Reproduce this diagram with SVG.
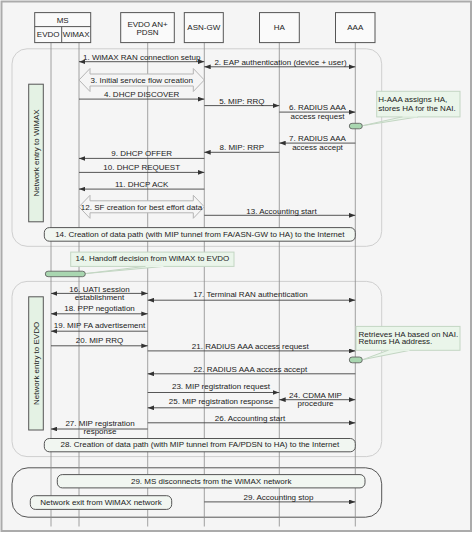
<svg xmlns="http://www.w3.org/2000/svg" width="474" height="534" viewBox="0 0 474 534">
<style>
text{font-family:"Liberation Sans",Arial,sans-serif;font-size:8px;fill:#222}
.c{text-anchor:middle}
.hdr{fill:#fafafa;stroke:#555;stroke-width:1}
.life{stroke:#8c8c8c;stroke-width:0.8;fill:none}
.msg{stroke:#444;stroke-width:0.9;fill:none}
.bi{marker-start:url(#ah);marker-end:url(#ah)}
.one{marker-end:url(#ah)}
.phase{fill:none;stroke:#cfcfcf;stroke-width:1}
.vbox{fill:#e4f2e4;stroke:#555;stroke-width:1}
.note{fill:#eaf5ea;stroke:#c3d6c3;stroke-width:1}
.pill{fill:#a9d6b0;stroke:#555;stroke-width:0.8}
.bar{fill:#f1f6f1;stroke:#555;stroke-width:1}
.fat{fill:#f5f5f5;stroke:#b5b5b5;stroke-width:1}
</style>
<defs>
<marker id="ah" viewBox="0 0 8 6" refX="8" refY="3" markerWidth="6.5" markerHeight="4.8" orient="auto-start-reverse" markerUnits="userSpaceOnUse"><path d="M0,0L8,3L0,6z" fill="#333"/></marker>
</defs>
<rect x="1.5" y="1.5" width="469.5" height="529.5" fill="#f5f5f5" stroke="#ababab" stroke-width="2"/>

<g id="phases">
<rect class="phase" x="12" y="48.8" width="369.7" height="197.5" rx="15"/>
<rect class="phase" x="12" y="281.4" width="369.7" height="175.2" rx="15"/>
<rect x="12" y="467.8" width="369.7" height="49.4" rx="16" fill="none" stroke="#555" stroke-width="1"/>
</g>

<g id="lifelines">
<line class="life" x1="51" y1="42.6" x2="51" y2="526.5"/>
<line class="life" x1="79" y1="42.6" x2="79" y2="526.5"/>
<line class="life" x1="147.7" y1="42.6" x2="147.7" y2="526.5"/>
<line class="life" x1="204.3" y1="42.6" x2="204.3" y2="526.5"/>
<line class="life" x1="279.3" y1="42.6" x2="279.3" y2="526.5"/>
<line class="life" x1="355.3" y1="42.6" x2="355.3" y2="526.5"/>
</g>

<g id="node-ms">
<rect class="hdr" x="34.7" y="12.6" width="56" height="30"/>
<line x1="34.7" y1="26.6" x2="90.7" y2="26.6" stroke="#555"/>
<line x1="61.7" y1="26.6" x2="61.7" y2="42.6" stroke="#555"/>
<text class="c" x="62.7" y="22.5">MS</text>
<text class="c" x="48.2" y="37.3">EVDO</text>
<text class="c" x="76.2" y="37.3">WiMAX</text>
</g>
<g id="node-evdoan">
<rect class="hdr" x="120.7" y="12.6" width="53.6" height="30"/>
<text class="c" x="147.5" y="26.8">EVDO AN+</text>
<text class="c" x="147.5" y="34.8">PDSN</text>
</g>
<g id="node-asngw">
<rect class="hdr" x="184.3" y="12.6" width="39" height="30"/>
<text class="c" x="203.8" y="29.8">ASN-GW</text>
</g>
<g id="node-ha">
<rect class="hdr" x="259.5" y="12.6" width="39.8" height="30"/>
<text class="c" x="279.4" y="29.8">HA</text>
</g>
<g id="node-aaa">
<rect class="hdr" x="335.5" y="12.6" width="39.5" height="30"/>
<text class="c" x="355.3" y="29.8">AAA</text>
</g>

<g id="label-wimax">
<rect class="vbox" x="28.7" y="84.2" width="14.6" height="137.6"/>
<text class="c" transform="translate(38.8,153) rotate(-90)">Network entry to WiMAX</text>
</g>
<g id="label-evdo">
<rect class="vbox" x="28.7" y="296.8" width="14.6" height="133.2"/>
<text class="c" transform="translate(38.8,363.4) rotate(-90)">Network entry to EVDO</text>
</g>

<g id="connectors">
<line class="msg bi" x1="79" y1="61.7" x2="204.3" y2="61.7"/>
<line class="msg bi" x1="204.3" y1="66.8" x2="355.3" y2="66.8"/>
<path class="fat" d="M79,80L90,68.5L90,74L193.3,74L193.3,68.5L204.3,80L193.3,91.5L193.3,86L90,86L90,91.5Z"/>
<line class="msg one" x1="79" y1="99.1" x2="204.3" y2="99.1"/>
<line class="msg one" x1="204.3" y1="105.6" x2="279.3" y2="105.6"/>
<line class="msg one" x1="279.3" y1="112.1" x2="355.3" y2="112.1"/>
<line class="msg one" x1="355.3" y1="143.1" x2="279.3" y2="143.1"/>
<line class="msg one" x1="279.3" y1="152.3" x2="204.3" y2="152.3"/>
<line class="msg one" x1="204.3" y1="158.4" x2="79" y2="158.4"/>
<line class="msg one" x1="79" y1="172.4" x2="204.3" y2="172.4"/>
<line class="msg one" x1="204.3" y1="189.1" x2="79" y2="189.1"/>
<path class="fat" d="M79,206.8L90,195.3L90,200.8L193.3,200.8L193.3,195.3L204.3,206.8L193.3,218.3L193.3,212.8L90,212.8L90,218.3Z"/>
<line class="msg one" x1="204.3" y1="215.3" x2="355.3" y2="215.3"/>
<line class="msg bi" x1="51" y1="293.4" x2="147.7" y2="293.4"/>
<line class="msg bi" x1="147.7" y1="300.2" x2="355.3" y2="300.2"/>
<line class="msg bi" x1="51" y1="313.8" x2="147.7" y2="313.8"/>
<line class="msg one" x1="147.7" y1="331.2" x2="51" y2="331.2"/>
<line class="msg one" x1="51" y1="345.8" x2="147.7" y2="345.8"/>
<line class="msg one" x1="147.7" y1="350.9" x2="355.3" y2="350.9"/>
<line class="msg one" x1="355.3" y1="373.8" x2="147.7" y2="373.8"/>
<line class="msg one" x1="147.7" y1="392.5" x2="279.3" y2="392.5"/>
<line class="msg bi" x1="279.3" y1="399.7" x2="355.3" y2="399.7"/>
<line class="msg one" x1="279.3" y1="407.8" x2="147.7" y2="407.8"/>
<line class="msg one" x1="147.7" y1="422.8" x2="355.3" y2="422.8"/>
<line class="msg one" x1="147.7" y1="429" x2="51" y2="429"/>
<line class="msg one" x1="204.3" y1="501.9" x2="355.3" y2="501.9"/>
</g>

<g id="labels">
<text class="c" x="141.7" y="59.8">1. WiMAX RAN connection setup</text>
<text class="c" x="280.5" y="65">2. EAP authentication (device + user)</text>
<text class="c" x="141.7" y="82.8">3. Initial service flow creation</text>
<text class="c" x="141.7" y="96.8">4. DHCP DISCOVER</text>
<text class="c" x="241.8" y="103.7">5. MIP: RRQ</text>
<text class="c" x="317.5" y="110.3">6. RADIUS AAA</text>
<text class="c" x="317.5" y="118.8">access request</text>
<text class="c" x="317.5" y="141">7. RADIUS AAA</text>
<text class="c" x="317.5" y="149.9">access accept</text>
<text class="c" x="241.8" y="150.3">8. MIP: RRP</text>
<text class="c" x="141.7" y="156.4">9. DHCP OFFER</text>
<text class="c" x="141.7" y="170.4">10. DHCP REQUEST</text>
<text class="c" x="141.7" y="187">11. DHCP ACK</text>
<text class="c" x="141.5" y="209.6">12. SF creation for best effort data</text>
<text class="c" x="281.5" y="213.5">13. Accounting start</text>
<text class="c" x="99.5" y="291.6">16. UATI session</text>
<text class="c" x="99.5" y="300.1">establishment</text>
<text class="c" x="250.5" y="297.2">17. Terminal RAN authentication</text>
<text class="c" x="99.5" y="311">18. PPP negotiation</text>
<text class="c" x="99.5" y="328.2">19. MIP FA advertisement</text>
<text class="c" x="99.5" y="342.8">20. MIP RRQ</text>
<text class="c" x="250.3" y="349.2">21. RADIUS AAA access request</text>
<text class="c" x="250.3" y="371.7">22. RADIUS AAA access accept</text>
<text class="c" x="221" y="388.8">23. MIP registration request</text>
<text class="c" x="315.5" y="397.9">24. CDMA MIP</text>
<text class="c" x="315.5" y="406.4">procedure</text>
<text class="c" x="221" y="404.2">25. MIP registration response</text>
<text class="c" x="250" y="420.5">26. Accounting start</text>
<text class="c" x="100" y="425.5">27. MIP registration</text>
<text class="c" x="100" y="434">response</text>
<text class="c" x="278.5" y="499.6">29. Accounting stop</text>
</g>

<g id="bar-14">
<rect class="bar" x="44.3" y="227.6" width="311" height="13.6" rx="5"/>
<text class="c" x="199.8" y="237.2">14. Creation of data path (with MIP tunnel from FA/ASN-GW to HA) to the Internet</text>
</g>
<g id="bar-28">
<rect class="bar" x="44.3" y="438.5" width="311" height="13.3" rx="5"/>
<text class="c" x="199.8" y="447.4">28. Creation of data path (with MIP tunnel from FA/PDSN to HA) to the Internet</text>
</g>
<g id="bar-29">
<rect class="bar" x="57.3" y="474.6" width="307.7" height="13.3" rx="5"/>
<text class="c" x="211.2" y="483.9">29. MS disconnects from the WiMAX network</text>
</g>
<g id="label-exit">
<rect class="bar" x="30.3" y="495.7" width="141.4" height="13.7" rx="5"/>
<text class="c" x="101" y="505.4">Network exit from WiMAX network</text>
</g>

<g id="note-haaa">
<polygon class="note" points="363,125.6 402,116.9 418,116.9"/>
<rect class="note" x="376.7" y="91.3" width="83.3" height="25.6"/>
<line x1="402.5" y1="116.9" x2="417.5" y2="116.9" stroke="#eaf5ea" stroke-width="1.2"/>
<text x="378.3" y="102.3">H-AAA assigns HA,</text>
<text x="378.3" y="111">stores HA for the NAI.</text>
<rect class="pill" x="349.3" y="123.3" width="13" height="5.5" rx="2.75"/>
</g>
<g id="note-handoff">
<polygon class="note" points="85.3,273.6 145,266.4 164,266.4"/>
<rect class="note" x="70.7" y="252.1" width="163.3" height="14.3"/>
<line x1="145.5" y1="266.4" x2="163.5" y2="266.4" stroke="#eaf5ea" stroke-width="1.2"/>
<text class="c" x="152.4" y="261.1">14. Handoff decision from WiMAX to EVDO</text>
<rect class="pill" x="45.3" y="271.2" width="40" height="5.5" rx="2.75"/>
</g>
<g id="note-retrieves">
<polygon class="note" points="363,359.6 388,350.3 410,350.3"/>
<rect class="note" x="356" y="326.4" width="104" height="23.9"/>
<line x1="388.5" y1="350.3" x2="409.5" y2="350.3" stroke="#eaf5ea" stroke-width="1.2"/>
<text x="358.5" y="336.6">Retrieves HA based on NAI.</text>
<text x="358.5" y="344.4">Returns HA address.</text>
<rect class="pill" x="349.3" y="357" width="13" height="5.8" rx="2.9"/>
</g>
</svg>
